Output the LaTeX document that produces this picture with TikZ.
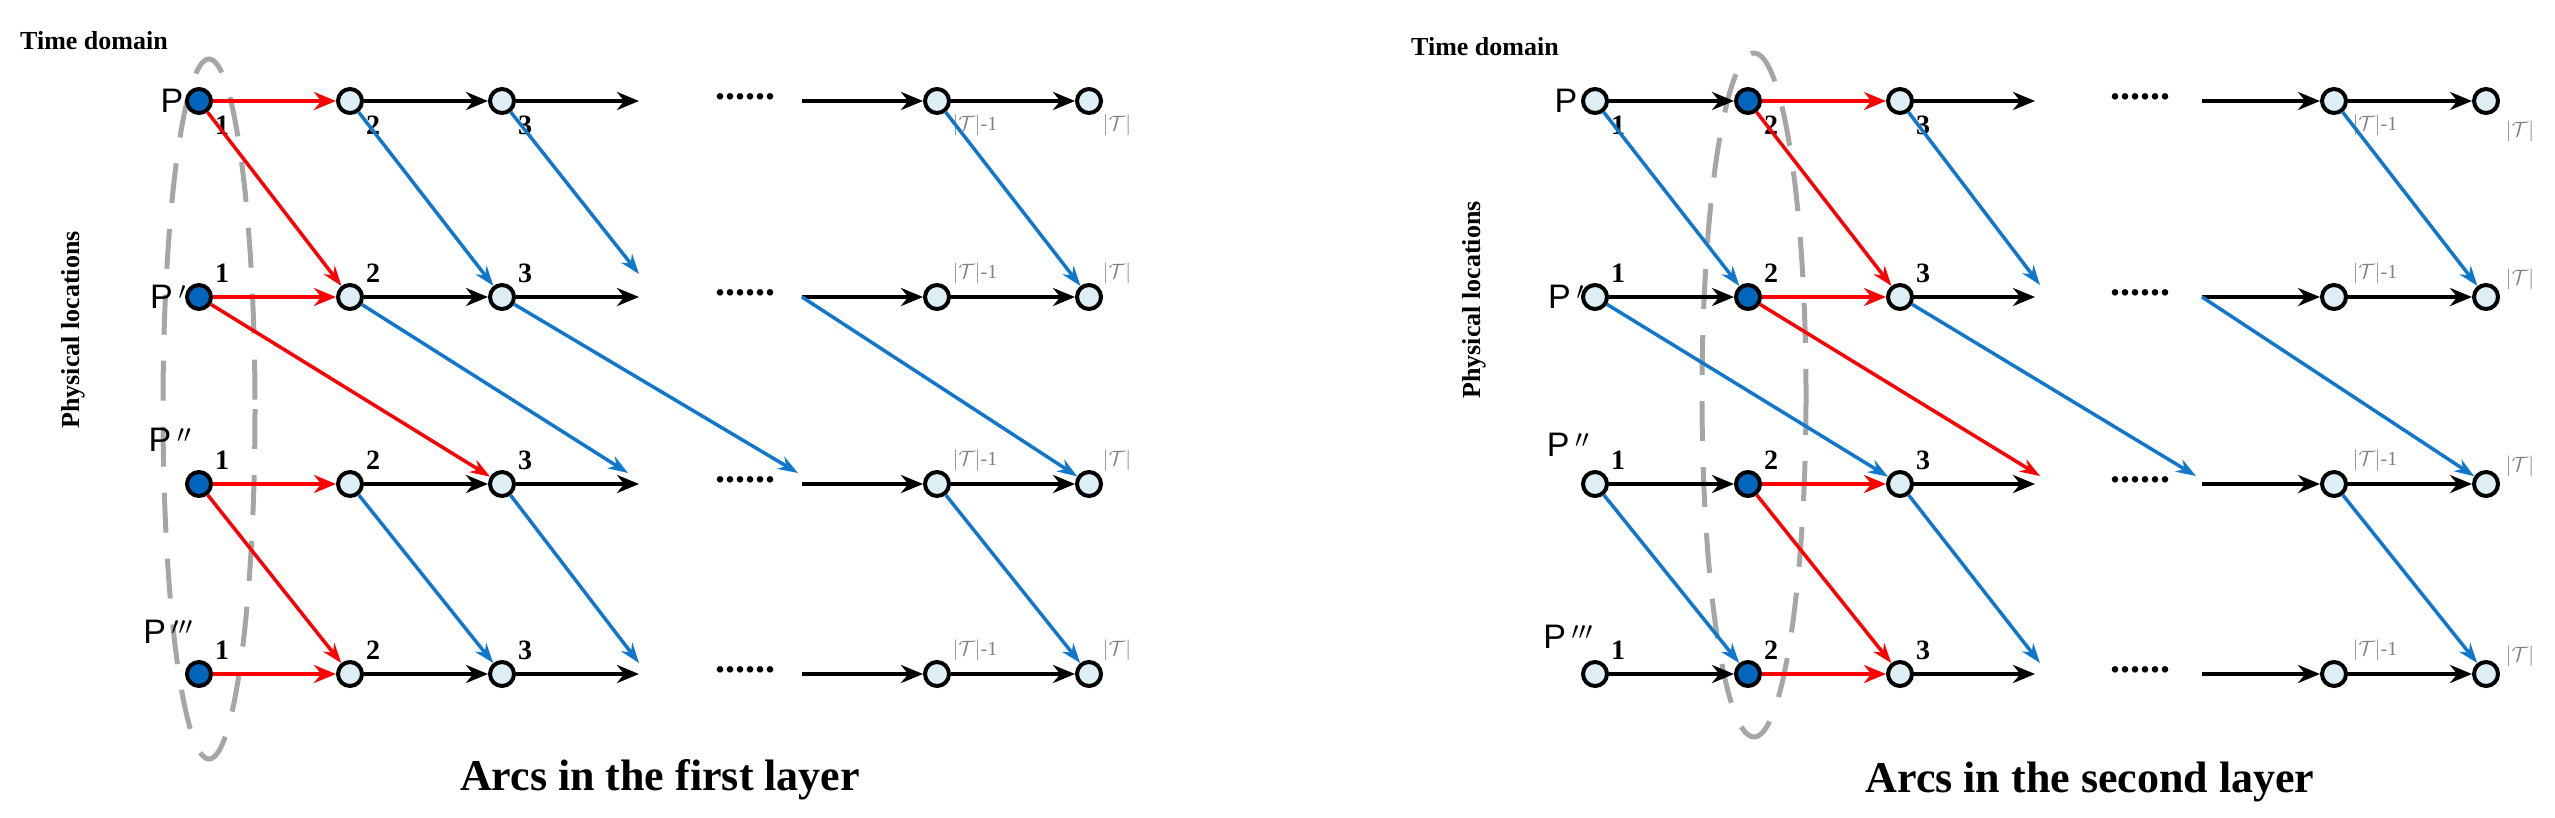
\documentclass[tikz,border=0pt]{standalone}
\usepackage{fontspec}
\setmainfont{Liberation Serif}
\newfontfamily\sansP{Liberation Sans}
\usetikzlibrary{arrows.meta}
\definecolor{lb}{HTML}{DDEEF5}
\definecolor{db}{HTML}{0066BB}
\definecolor{ab}{HTML}{1177CC}
\definecolor{rr}{HTML}{FF0000}
\tikzset{
 nd/.style={circle,draw=black,line width=4pt,fill=lb,minimum size=24pt,inner sep=0pt},
 hd/.style={nd,fill=db},
 harr/.style={line width=4.5pt,-{Stealth[length=22pt,width=18pt]}},
 hred/.style={harr,draw=rr},
 dblue/.style={draw=ab,line width=3.5pt,-{Stealth[length=20pt,width=14pt]}},
 dred/.style={draw=rr,line width=3.5pt,-{Stealth[length=20pt,width=14pt]}},
 num/.style={font=\bfseries\fontsize{28}{28}\selectfont,inner sep=0pt},
 tl/.style={text=gray,font=\fontsize{20}{20}\selectfont,inner sep=0pt},
 pl/.style={font=\sansP\fontsize{34}{34}\selectfont,inner sep=0pt},
 dots/.style={font=\bfseries\fontsize{40}{40}\selectfont,inner sep=0pt},
 hdr/.style={font=\bfseries\fontsize{26}{26}\selectfont,inner sep=0pt},
 ttl/.style={font=\bfseries\fontsize{44}{44}\selectfont,inner sep=0pt},
 ell/.style={draw=gray!70,line width=5pt,dash pattern=on 40pt off 26pt},
}
\begin{document}
\begin{tikzpicture}[x=1pt,y=-1pt]
\useasboundingbox (0,0) rectangle (2555,817);
% ===== left panel =====
\node[hdr,anchor=west] (lh) at (20,41) {Time domain};
\node[hdr,rotate=90] (lv) at (73,330) {Physical locations};
\draw[ell] (209,409) ellipse [x radius=46, y radius=350];
\node[ttl] (lt) at (660,780) {Arcs in the first layer};
\node[pl] (lp1) at (172,101) {P};
\node[pl] (lp2) at (168,297) {P\,$'$};
\node[pl] (lp3) at (170,440) {P\,$''$};
\node[pl] (lp4) at (168,632) {P\,$'''$};
\foreach \r/\y in {1/101,2/297,3/484,4/674}{
 \node[hd] (L\r c1) at (199,\y) {};
 \node[nd] (L\r c2) at (350,\y) {};
 \node[nd] (L\r c3) at (502,\y) {};
 \coordinate (L\r e) at (639,\y);
 \node[dots] (L\r d) at (745,\y-4) {......};
 \coordinate (L\r s) at (802,\y);
 \node[nd] (L\r a) at (937,\y) {};
 \node[nd] (L\r b) at (1089,\y) {};
 \draw[hred] (L\r c1)--(L\r c2);
 \draw[harr] (L\r c2)--(L\r c3);
 \draw[harr] (L\r c3)--(L\r e);
 \draw[harr] (L\r s)--(L\r a);
 \draw[harr] (L\r a)--(L\r b);
}
\foreach \r/\y/\d in {1/101/24,2/297/-24,3/484/-24,4/674/-24}{
 \node[num] (L\r n1) at (222,\y+\d) {1};
 \node[num] (L\r n2) at (373,\y+\d) {2};
 \node[num] (L\r n3) at (525,\y+\d) {3};
 \node[tl] (L\r na) at (975,\y+\d) {$|\mathcal{T}|$-1};
 \node[tl] (L\r nb) at (1117,\y+\d) {$|\mathcal{T}|$};
}
\coordinate (L2t) at (639,274);
\coordinate (L3t1) at (628,473);
\coordinate (L3t2) at (798,473);
\coordinate (L4t) at (639,663);
\draw[dred] (L1c1)--(L2c2);
\draw[dblue] (L1c2)--(L2c3);
\draw[dblue] (L1c3)--(L2t);
\draw[dblue] (L1a)--(L2b);
\draw[dred] (L2c1)--(L3c3);
\draw[dblue] (L2c2)--(L3t1);
\draw[dblue] (L2c3)--(L3t2);
\draw[dblue] (L2s)--(L3b);
\draw[dred] (L3c1)--(L4c2);
\draw[dblue] (L3c2)--(L4c3);
\draw[dblue] (L3c3)--(L4t);
\draw[dblue] (L3a)--(L4b);
% ===== right panel =====
\node[hdr,anchor=west] (rh) at (1411,47) {Time domain};
\node[hdr,rotate=90] (rv) at (1474,300) {Physical locations};
\draw[ell] (1754,395) ellipse [x radius=52, y radius=342];
\node[ttl] (rt) at (2090,782) {Arcs in the second layer};
\node[pl] (rp1) at (1566,101) {P};
\node[pl] (rp2) at (1566,297) {P\,$'$};
\node[pl] (rp3) at (1568,445) {P\,$''$};
\node[pl] (rp4) at (1568,637) {P\,$'''$};
\foreach \r/\y in {1/101,2/297,3/484,4/674}{
 \node[nd] (R\r c1) at (1595,\y) {};
 \node[hd] (R\r c2) at (1748,\y) {};
 \node[nd] (R\r c3) at (1900,\y) {};
 \coordinate (R\r e) at (2035,\y);
 \node[dots] (R\r d) at (2140,\y-4) {......};
 \coordinate (R\r s) at (2202,\y);
 \node[nd] (R\r a) at (2334,\y) {};
 \node[nd] (R\r b) at (2486,\y) {};
 \draw[harr] (R\r c1)--(R\r c2);
 \draw[hred] (R\r c2)--(R\r c3);
 \draw[harr] (R\r c3)--(R\r e);
 \draw[harr] (R\r s)--(R\r a);
 \draw[harr] (R\r a)--(R\r b);
}
\foreach \r/\y/\d in {1/101/24,2/297/-24,3/484/-24,4/674/-24}{
 \node[num] (R\r n1) at (1618,\y+\d) {1};
 \node[num] (R\r n2) at (1771,\y+\d) {2};
 \node[num] (R\r n3) at (1923,\y+\d) {3};
 \node[tl] (R\r na) at (2375,\y+\d) {$|\mathcal{T}|$-1};
 \node[tl] (R\r nb) at (2520,\y+\d+6) {$|\mathcal{T}|$};
}
\coordinate (R2t) at (2040,285);
\coordinate (R3t1) at (2040,476);
\coordinate (R3t2) at (2196,476);
\coordinate (R4t) at (2040,663);
\draw[dblue] (R1c1)--(R2c2);
\draw[dred] (R1c2)--(R2c3);
\draw[dblue] (R1c3)--(R2t);
\draw[dblue] (R1a)--(R2b);
\draw[dblue] (R2c1)--(R3c3);
\draw[dred] (R2c2)--(R3t1);
\draw[dblue] (R2c3)--(R3t2);
\draw[dblue] (R2s)--(R3b);
\draw[dblue] (R3c1)--(R4c2);
\draw[dred] (R3c2)--(R4c3);
\draw[dblue] (R3c3)--(R4t);
\draw[dblue] (R3a)--(R4b);
\end{tikzpicture}
\end{document}
